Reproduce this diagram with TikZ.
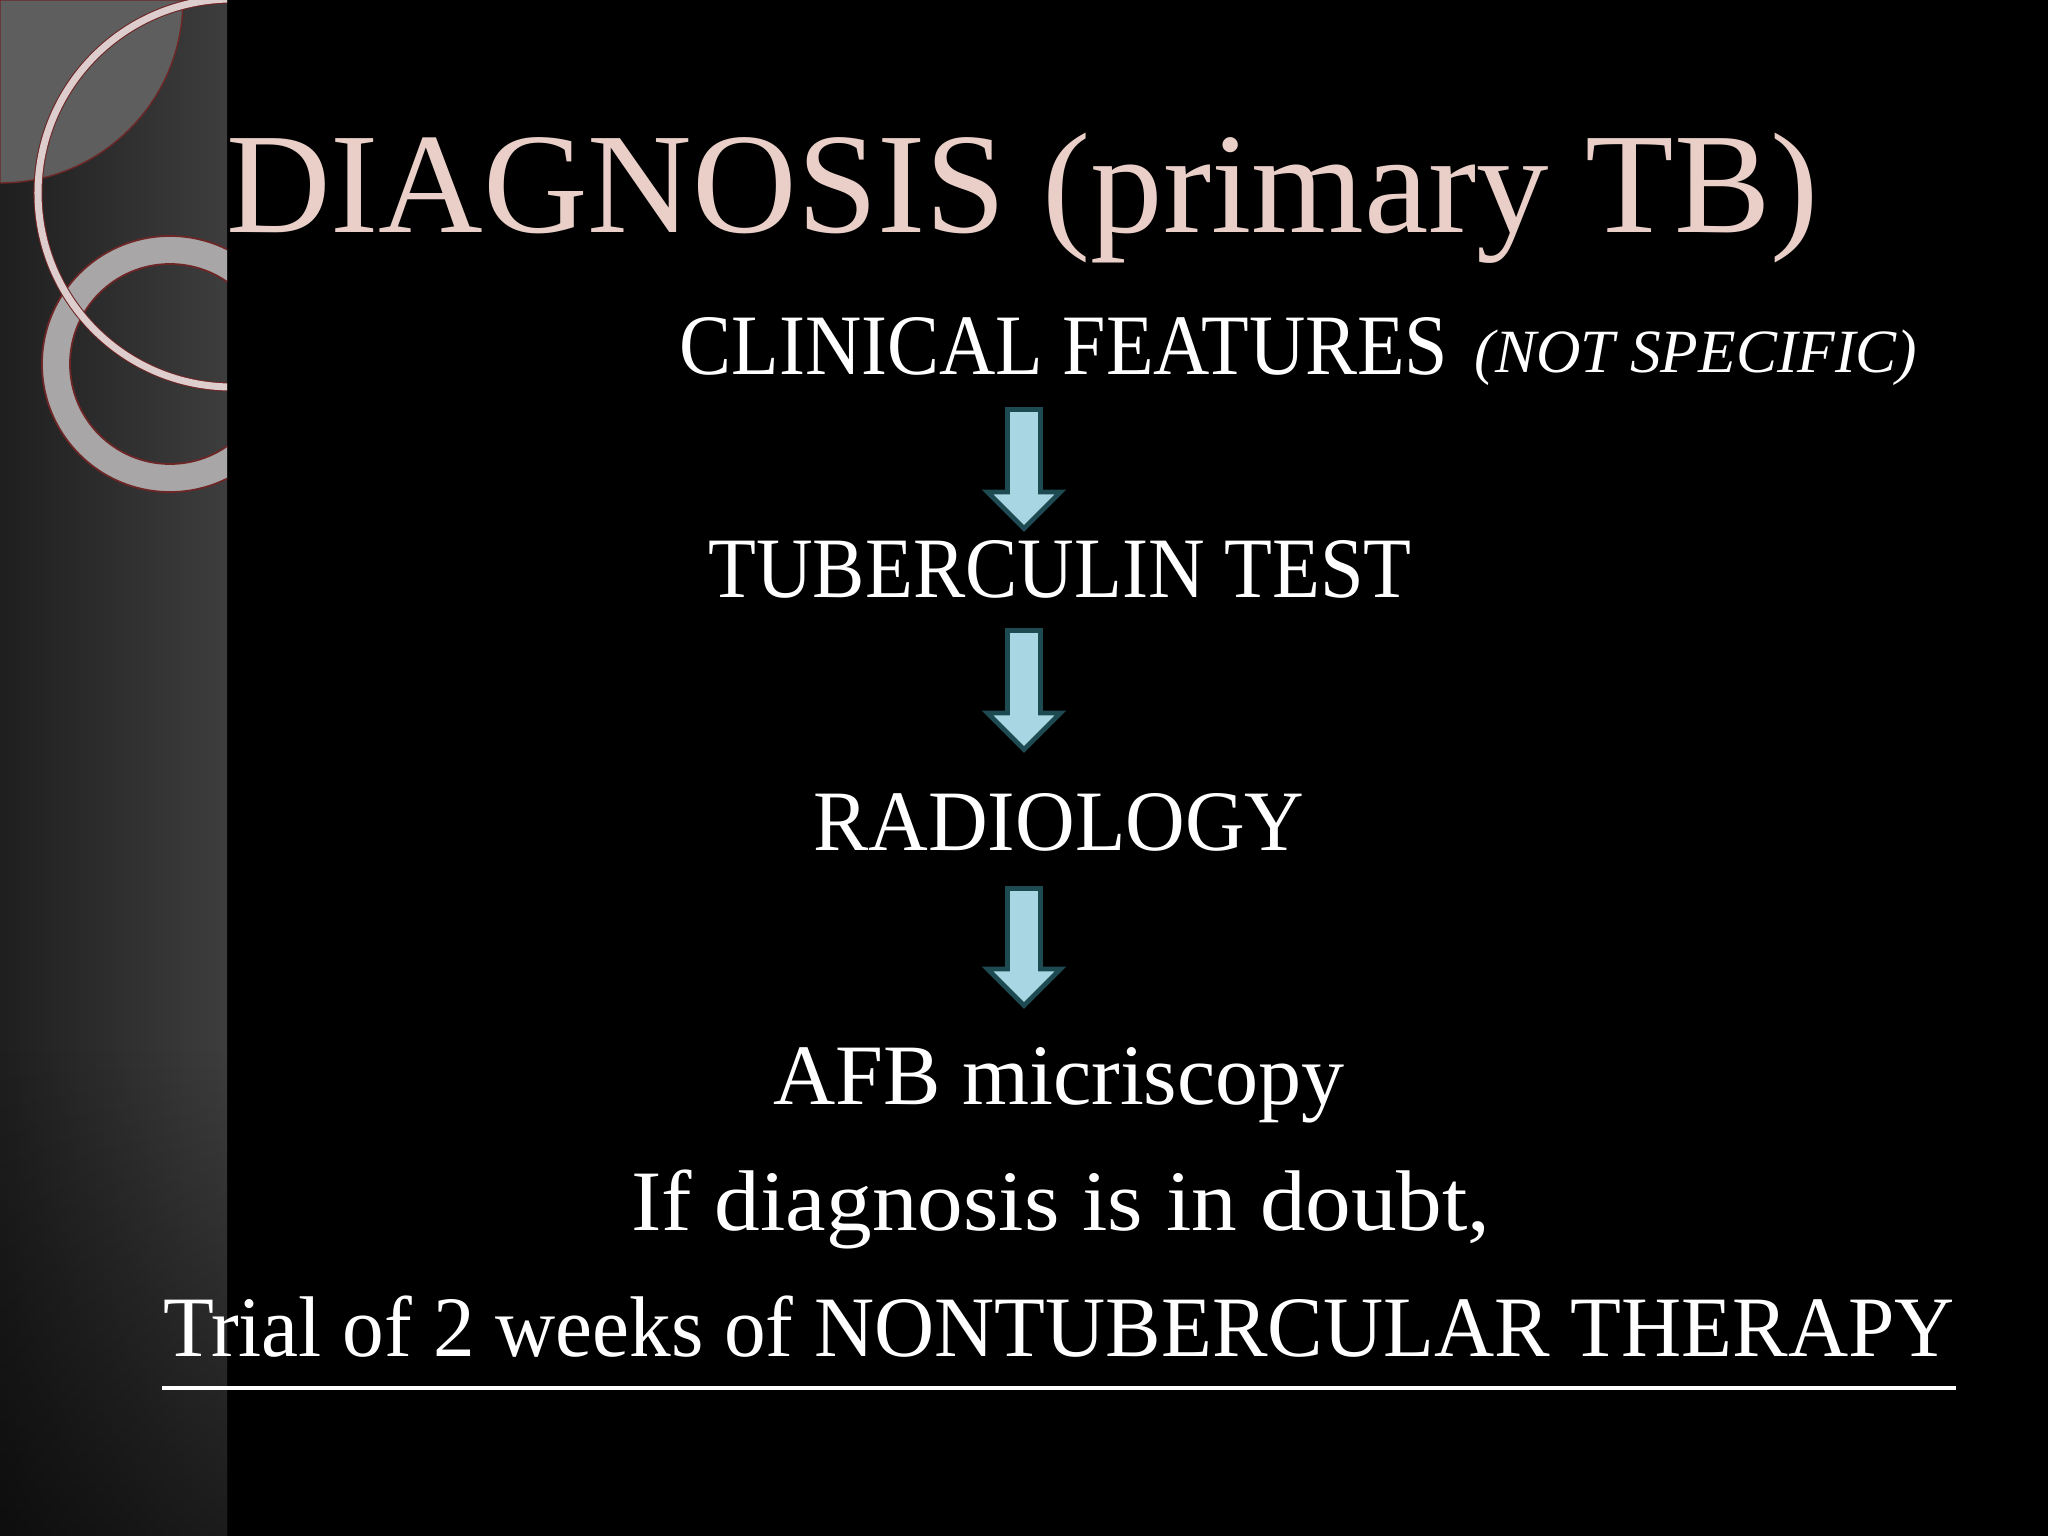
\documentclass[tikz,border=0pt]{standalone}
\usepackage{fontspec}
\setmainfont{Liberation Serif}
\usetikzlibrary{calc,fadings}
\definecolor{titlepink}{HTML}{E9CFC7}
\definecolor{arrowfill}{HTML}{A8D6E2}
\definecolor{arrowedge}{HTML}{1E4B52}
\definecolor{ringgray}{HTML}{A8A6A6}
\definecolor{ringedge}{HTML}{6E2626}
\definecolor{loopwhite}{HTML}{DDCDCD}
\newcommand{\squeeze}[2]{\scalebox{#1}[1]{#2}}
\tikzset{
    bodytext/.style={text=white, inner sep=0pt, anchor=base, font=\fontsize{24.5}{29}\selectfont},
    blockarrow/.style={draw=arrowedge, fill=arrowfill, line width=1.4pt, line join=miter}
}
\begin{document}
\begin{tikzpicture}
            % background and left panel
            \fill[black] (0,0) rectangle (20.48,-15.36);
            \shade[left color=black!88, right color=black!76] (0,0) rectangle (2.27,-15.36);
            \fill[black, opacity=0.55, path fading=north] (0,-10.5) rectangle (2.27,-15.36);
            \begin{scope}
                \clip (0,0) rectangle (2.27,-15.36);
                \fill[black!63, draw=ringedge, line width=0.4pt] (0,0) -- (1.83,0) arc (0:-90:1.83) -- cycle;
                \fill[ringgray, draw=ringedge, line width=0.5pt, even odd rule] (1.70,-3.64) circle (1.28) (1.70,-3.64) circle (1.00);
                \draw[ringedge, line width=2.6pt] (2.32,-1.93) circle (1.94);
                \draw[loopwhite, line width=2pt] (2.32,-1.93) circle (1.94);
            \end{scope}
            % title
            \node[inner sep=0pt, anchor=base, text=titlepink, font=\fontsize{40.8}{48}\selectfont] (title) at (10.225,-2.33) {\squeeze{1.01}{DIAGNOSIS (primary TB)}};
            % steps
            \node[bodytext, anchor=base west] (clinical) at (6.79,-3.75) {\squeeze{0.905}{CLINICAL FEATURES}};
            \node[inner sep=0pt, anchor=base west, text=white, font=\fontsize{17.5}{20}\selectfont\itshape] (notspec) at (14.74,-3.73) {(NOT SPECIFIC)};
            \node[bodytext] (tuberculin) at (10.60,-5.98) {\squeeze{0.91}{TUBERCULIN TEST}};
            \node[bodytext] (radiology) at (10.59,-8.50) {\squeeze{0.96}{RADIOLOGY}};
            \node[bodytext] (afb) at (10.59,-11.04) {AFB micriscopy};
            \node[bodytext] (doubt) at (10.61,-12.30) {\squeeze{1.06}{If diagnosis is in doubt,}};
            \node[bodytext] (trial) at (10.59,-13.56) {\squeeze{0.967}{Trial of 2 weeks of NONTUBERCULAR THERAPY}};
            \draw[white, line width=1.2pt] ([yshift=-0.32cm]trial.base west) -- ([yshift=-0.32cm]trial.base east);
            % arrows between steps
            \foreach \n/\ya/\yb in {1/4.095/5.285, 2/6.305/7.495, 3/8.885/10.055} {
                \coordinate (arrtop\n) at (10.24,-\ya);
                \coordinate (arrtip\n) at (10.24,-\yb);
                \draw[blockarrow] ($(arrtop\n)+(-0.165,0)$) -- ($(arrtop\n)+(0.165,0)$) -- ($(arrtip\n)+(0.165,0.365)$) -- ($(arrtip\n)+(0.365,0.365)$) -- (arrtip\n) -- ($(arrtip\n)+(-0.365,0.365)$) -- ($(arrtip\n)+(-0.165,0.365)$) -- cycle;
            }
\end{tikzpicture}
\end{document}
